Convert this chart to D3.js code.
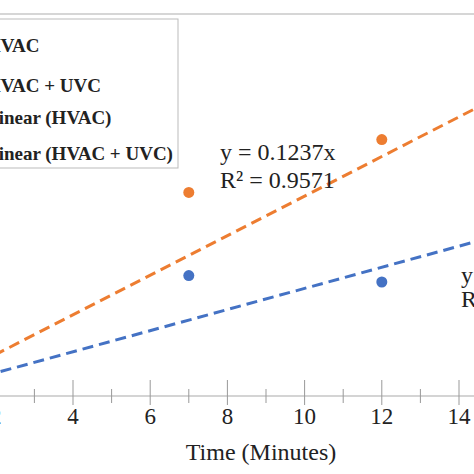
<!DOCTYPE html>
<html><head><meta charset="utf-8">
<script src="https://cdn.jsdelivr.net/npm/d3@7"></script>
<style>body{margin:0;background:#fff}text{font-family:"Liberation Serif",serif;fill:#222}</style>
</head><body><div id="chart"></div>
<script>
// data
var hvacPts = [[7, 0.74], [12, 0.70]];
var uvcPts = [[7, 1.26], [12, 1.59]];
var hvacSlope = 0.066;
var uvcSlope = 0.1237;
var majorTicks = [2, 4, 6, 8, 10, 12, 14];
var minorTicks = [1, 3, 5, 7, 9, 11, 13, 15];
var legendItems = ["HVAC", "HVAC + UVC", "Linear (HVAC)", "Linear (HVAC + UVC)"];

var svg = d3.select("#chart").append("svg").attr("width", 474).attr("height", 474);
var x = d3.scaleLinear().domain([4, 14]).range([73, 459]);
var y = d3.scaleLinear().domain([0, 1]).range([394, 234]);

// top frame line
svg.append("line").attr("x1", 0).attr("x2", 474).attr("y1", 14).attr("y2", 14)
	.attr("stroke", "#c8c8c8").attr("stroke-width", 1.5);

// axis
svg.append("line").attr("x1", 0).attr("x2", 474).attr("y1", 396).attr("y2", 396)
	.attr("stroke", "#aaa").attr("stroke-width", 1.2);
svg.selectAll(".maj").data(majorTicks).enter().append("line")
	.attr("x1", d => x(d)).attr("x2", d => x(d)).attr("y1", 380).attr("y2", 405)
	.attr("stroke", "#999");
svg.selectAll(".min").data(minorTicks).enter().append("line")
	.attr("x1", d => x(d)).attr("x2", d => x(d)).attr("y1", 389).attr("y2", 403)
	.attr("stroke", "#999");
svg.selectAll(".tl").data(majorTicks).enter().append("text")
	.attr("x", d => x(d)).attr("y", 424).attr("text-anchor", "middle")
	.attr("font-size", 23).text(d => d);
svg.append("text").attr("x", 261).attr("y", 460).attr("text-anchor", "middle")
	.attr("font-size", 24).text("Time (Minutes)");

// trend lines
function trend(slope, color) {
	svg.append("line")
		.attr("x1", x(0)).attr("y1", y(0)).attr("x2", x(16)).attr("y2", y(slope * 16))
		.attr("stroke", color).attr("stroke-width", 3).attr("stroke-dasharray", "11,6");
}
trend(uvcSlope, "#ed7d31");
trend(hvacSlope, "#4472c4");

svg.selectAll(".po").data(uvcPts).enter().append("circle")
	.attr("cx", d => x(d[0])).attr("cy", d => y(d[1])).attr("r", 5.5).attr("fill", "#ed7d31");
svg.selectAll(".pb").data(hvacPts).enter().append("circle")
	.attr("cx", d => x(d[0])).attr("cy", d => y(d[1])).attr("r", 5.5).attr("fill", "#4472c4");

// equations
svg.append("text").attr("x", 220).attr("y", 160).attr("font-size", 24).text("y = 0.1237x");
svg.append("text").attr("x", 220).attr("y", 188).attr("font-size", 24).text("R² = 0.9571");
svg.append("text").attr("x", 461).attr("y", 283).attr("font-size", 24).text("y = 0.066x");
svg.append("text").attr("x", 461).attr("y", 307).attr("font-size", 24).text("R² = 0.");

// legend (left part clipped)
svg.append("rect").attr("x", -60).attr("y", 19).attr("width", 238).attr("height", 149)
	.attr("fill", "#fff").attr("stroke", "#bbb");
var ly = [52, 92, 124, 160];
svg.selectAll(".lg").data(legendItems).enter().append("text")
	.attr("x", d => d.startsWith("Linear") ? -14 : -14).attr("y", (d, i) => ly[i])
	.attr("font-size", 19).attr("font-weight", "bold").text(d => d);
</script></body></html>
